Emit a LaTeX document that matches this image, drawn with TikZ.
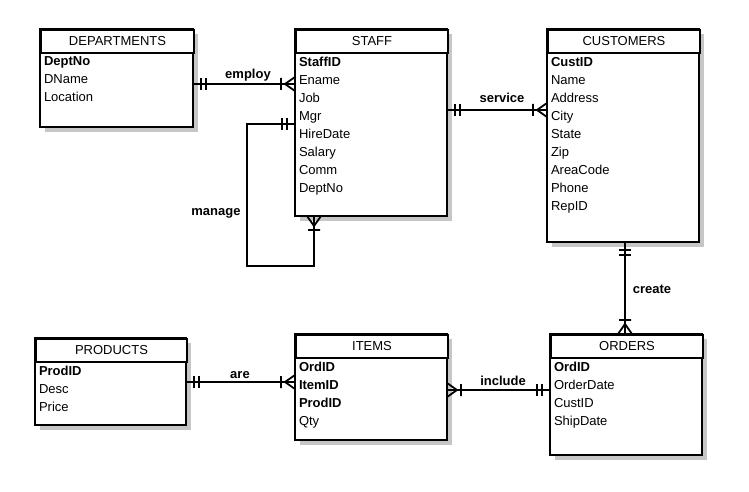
\documentclass[tikz,border=0pt]{standalone}
\usepackage{fontspec}
\setmainfont{Liberation Sans}
\begin{document}
\begin{tikzpicture}[x=1pt,y=1pt,line width=2pt,
  rel/.style={line width=2pt},
  lbl/.style={font=\fontsize{13}{15}\selectfont\bfseries,inner sep=1pt},
  rows/.style={anchor=north west,align=left,inner sep=0pt,font=\fontsize{13}{18}\selectfont},
  oneone/.pic={\draw[line width=1.8pt] (8,-6)--(8,6) (13,-6)--(13,6);},
  many/.pic={\draw[line width=1.8pt] (0,-7)--(10,0)--(0,7) (0,0)--(10,0) (14,-6)--(14,6);}]
\useasboundingbox (0,0) rectangle (749,-492);
\newcommand{\ent}[7]{%
  \fill[gray!45] (#2+5,-#3-5) rectangle (#2+#4+5,-#3-#5-5);
  \draw[fill=white] (#2,-#3) rectangle (#2+#4,-#3-#5);
  \node[draw,line width=2pt,fill=white,minimum width=#4,minimum height=23,anchor=north west,inner sep=0pt,font=\fontsize{13}{15}\selectfont] (#1) at (#2,-#3) {#6};
  \node[rows] (#1r) at (#2+3,-#3-27) {#7};}
\ent{dep}{40}{29}{153}{98}{DEPARTMENTS}{\textbf{DeptNo}\\DName\\Location}
\ent{staff}{295}{29}{152}{187}{STAFF}{\textbf{StaffID}\\Ename\\Job\\Mgr\\HireDate\\Salary\\Comm\\DeptNo}
\ent{cust}{547}{29}{152}{213}{CUSTOMERS}{\textbf{CustID}\\Name\\Address\\City\\State\\Zip\\AreaCode\\Phone\\RepID}
\ent{prod}{35}{338}{151}{87}{PRODUCTS}{\textbf{ProdID}\\Desc\\Price}
\ent{items}{295}{334}{152}{106}{ITEMS}{\textbf{OrdID}\\\textbf{ItemID}\\\textbf{ProdID}\\Qty}
\ent{ord}{550}{334}{152}{121}{ORDERS}{\textbf{OrdID}\\OrderDate\\CustID\\ShipDate}
% employ
\coordinate (e1) at (193,-84); \coordinate (e2) at (295,-84);
\draw (e1)--(e2); \pic at (e1) {oneone}; \pic[rotate=180] at (e2) {many};
\node[lbl] at (248,-75) {employ};
% service
\coordinate (s1) at (447,-110); \coordinate (s2) at (547,-110);
\draw (s1)--(s2); \pic at (s1) {oneone}; \pic[rotate=180] at (s2) {many};
\node[lbl] at (502,-98) {service};
% manage
\coordinate (m1) at (295,-124); \coordinate (m2) at (314,-216);
\draw (m1)--(247,-124)--(247,-266)--(314,-266)--(m2);
\pic[rotate=180] at (m1) {oneone}; \pic[rotate=-90] at (m2) {many};
\node[lbl] at (216,-213) {manage};
% create
\coordinate (c1) at (625,-242); \coordinate (c2) at (625,-334);
\draw (c1)--(c2); \pic[rotate=-90] at (c1) {oneone}; \pic[rotate=90] at (c2) {many};
\node[lbl] at (652,-289) {create};
% are
\coordinate (a1) at (186,-382); \coordinate (a2) at (295,-382);
\draw (a1)--(a2); \pic at (a1) {oneone}; \pic[rotate=180] at (a2) {many};
\node[lbl] at (240,-375) {are};
% include
\coordinate (i1) at (447,-390); \coordinate (i2) at (550,-390);
\draw (i1)--(i2); \pic at (i1) {many}; \pic[rotate=180] at (i2) {oneone};
\node[lbl] at (503,-381) {include};
\end{tikzpicture}
\end{document}
